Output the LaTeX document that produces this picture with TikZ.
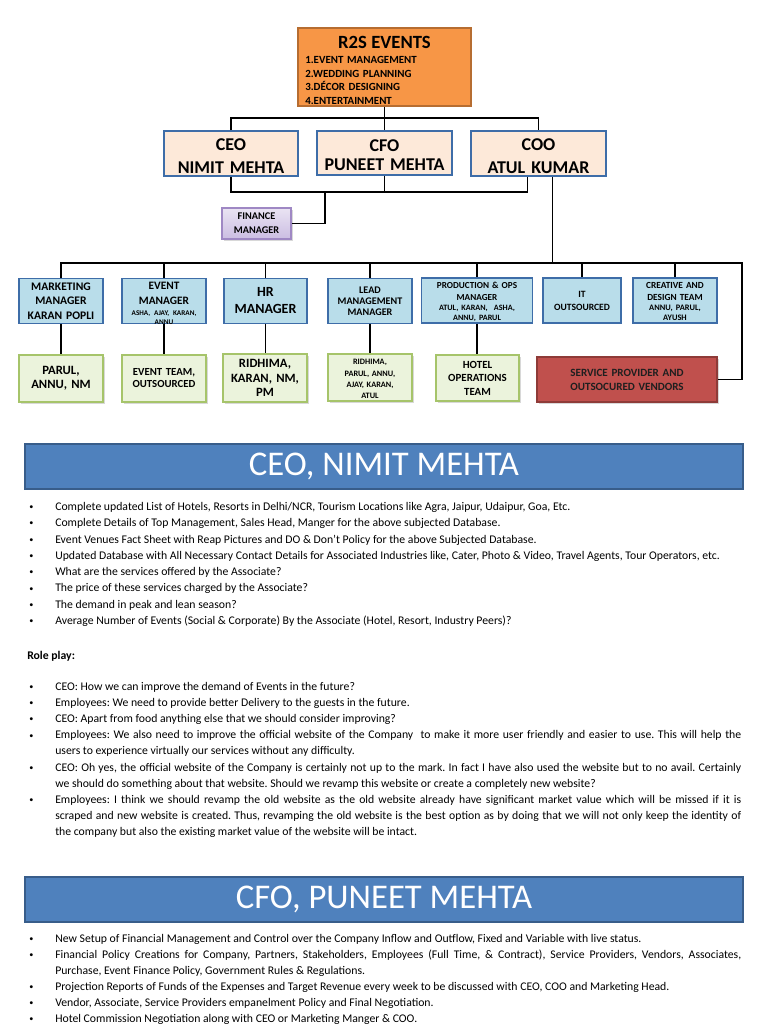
\documentclass[tikz,border=0pt]{standalone}
\usepackage{fontspec}
\usepackage{graphicx}
\setmainfont{Carlito}
\usetikzlibrary{shadows}
\definecolor{orgfill}{HTML}{F79646}
\definecolor{orgbd}{HTML}{B66D31}
\definecolor{peach}{HTML}{FDE9D9}
\definecolor{bluebd}{HTML}{3E6DA8}
\definecolor{mgrfill}{HTML}{B9DDEA}
\definecolor{finbd}{HTML}{9F88C4}
\definecolor{fintop}{HTML}{EAE4F3}
\definecolor{finbot}{HTML}{CBBDE2}
\definecolor{grnfill}{HTML}{EBF3DC}
\definecolor{grnbd}{HTML}{A6C46A}
\definecolor{redfill}{HTML}{C0504D}
\definecolor{redbd}{HTML}{8E3B38}
\definecolor{banfill}{HTML}{4F81BD}
\definecolor{banbd}{HTML}{385D8A}
\frenchspacing
\newcommand{\bulf}[1]{\hangindent=19.5pt\hangafter=1\noindent\makebox[19.5pt][l]{\raisebox{0.6pt}{\scalebox{0.7}{\textbullet}}}#1}
\newcommand{\bul}[1]{\par\bulf{#1}}
\begin{document}
\begin{tikzpicture}[x=0.75pt,y=-0.75pt,
  sz/.style 2 args={minimum width=#1,text width=#1,minimum height=#2},
  anybox/.style={inner sep=0pt,align=center,text=black},
  orgbox/.style={anybox,draw=orgbd,line width=1.2pt,fill=orgfill},
  topbox/.style={anybox,draw=bluebd,line width=1.4pt,fill=peach},
  mgrbox/.style={anybox,draw=bluebd,line width=1.4pt,fill=mgrfill},
  finbox/.style={anybox,draw=finbd,line width=0.8pt,top color=fintop,bottom color=finbot,
     drop shadow={shadow xshift=1.2pt,shadow yshift=-1.2pt,opacity=0.3}},
  grnbox/.style={anybox,draw=grnbd,line width=0.8pt,fill=grnfill,
     drop shadow={shadow xshift=1.2pt,shadow yshift=-1.2pt,opacity=0.3}},
  redbox/.style={anybox,draw=redbd,line width=0.8pt,fill=redfill,
     drop shadow={shadow xshift=1.2pt,shadow yshift=-1.2pt,opacity=0.3}},
  banner/.style={draw=banbd,line width=0.8pt,fill=banfill,minimum width=538.5pt,minimum height=33.75pt,
     text=white,font=\fontsize{26}{30}\selectfont},
  conn/.style={line width=1.4pt,draw=black},
  blist/.style={anchor=base west,inner sep=0pt,text width=534pt,align=justify,
     font=\fontsize{8.8}{12.2}\selectfont}
]
\useasboundingbox (0,0) rectangle (768,1024);
\fill[white] (0,0) rectangle (768,1024);

% top box
\node[orgbox,sz={129.75pt}{58.5pt}] (r2s) at (384.5,67) {};
\node[font=\bfseries\fontsize{14}{16}\selectfont] (r2st) at (384.5,42) {R2S EVENTS};
\node[anchor=base west,inner sep=0pt,text width=125pt,align=left,
      font=\bfseries\fontsize{8.2}{10.3}\selectfont] (r2sl) at (305,63.5)
  {1.EVENT MANAGEMENT\\2.WEDDING PLANNING\\3.DÉCOR DESIGNING\\4.ENTERTAINMENT};

% executives
\node[topbox,sz={100.5pt}{33.75pt},font=\bfseries\fontsize{13.5}{17.25}\selectfont] (ceo) at (231,153.5) {CEO\\NIMIT MEHTA\par\vspace{-4pt}};
\node[topbox,sz={101.25pt}{33pt},font=\bfseries\fontsize{13.5}{14.25}\selectfont] (cfo) at (384.5,153) {CFO\\PUNEET MEHTA\par\vspace{-2.5pt}};
\node[topbox,sz={101.25pt}{33.75pt},font=\bfseries\fontsize{13.5}{17.25}\selectfont] (coo) at (538.5,153.5) {COO\\ATUL KUMAR\par\vspace{-4pt}};

\node[finbox,sz={51.75pt}{23.25pt},font=\bfseries\fontsize{7.7}{10.5}\selectfont] (fin) at (256.5,223.5) {FINANCE\\MANAGER};

% managers
\node[mgrbox,sz={63pt}{33.75pt},font=\bfseries\fontsize{8.7}{10.9}\selectfont] (mkt) at (61,301) {MARKETING\\MANAGER\\KARAN POPLI};
\node[mgrbox,sz={63pt}{33.75pt},font=\bfseries\fontsize{8.5}{11.25}\selectfont] (evt) at (164,301)
  {EVENT\\MANAGER\par\vspace{1.2pt}\fontsize{5.4}{6.8}\selectfont ASHA, AJAY, KARAN,\\ANNU\par\vspace{-4pt}};
\node[mgrbox,sz={62.25pt}{33.75pt},font=\bfseries\fontsize{10.5}{12.75}\selectfont] (hr) at (265.5,301) {HR\\MANAGER};
\node[mgrbox,sz={63pt}{33.75pt},font=\bfseries\fontsize{7.6}{8.25}\selectfont] (lead) at (370,301) {LEAD\\MANAGEMENT\\MANAGER};
\node[mgrbox,sz={83.25pt}{33.75pt},font=\bfseries\fontsize{6.9}{9}\selectfont] (prod) at (477,300.5)
  {PRODUCTION \& OPS\\MANAGER\par\fontsize{6.1}{7.5}\selectfont ATUL, KARAN,~~ASHA,\\ANNU, PARUL\par\vspace{-2pt}};
\node[mgrbox,sz={58.5pt}{33.75pt},font=\bfseries\fontsize{7.2}{9.75}\selectfont] (it) at (582,300.5) {IT\\OUTSOURCED};
\node[mgrbox,sz={63pt}{33.75pt},font=\bfseries\fontsize{7}{9}\selectfont] (cre) at (675,300.5)
  {CREATIVE AND\\DESIGN TEAM\par\fontsize{6.3}{7.5}\selectfont ANNU, PARUL,\\AYUSH\par\vspace{-2pt}};

% teams
\node[grnbox,sz={63pt}{35.25pt},font=\bfseries\fontsize{9.5}{10.5}\selectfont] (parul) at (61,378.5) {PARUL,\\ANNU, NM};
\node[grnbox,sz={63pt}{35.25pt},font=\bfseries\fontsize{8.1}{9}\selectfont] (evteam) at (164,378.5) {EVENT TEAM,\\OUTSOURCED};
\node[grnbox,sz={63pt}{36pt},font=\bfseries\fontsize{9.5}{10.9}\selectfont] (rid1) at (265,378) {RIDHIMA,\\KARAN, NM,\\PM};
\node[grnbox,sz={63pt}{35.25pt},font=\bfseries\fontsize{6.2}{8.5}\selectfont] (rid2) at (370,377.5) {RIDHIMA,\\PARUL, ANNU,\\AJAY, KARAN,\\ATUL\par\vspace{-2.5pt}};
\node[grnbox,sz={62.25pt}{34.5pt},font=\bfseries\fontsize{8.2}{10.1}\selectfont] (hotel) at (477.5,378) {HOTEL\\OPERATIONS\\TEAM};
\node[redbox,sz={135pt}{33.75pt},font=\bfseries\fontsize{8.3}{10.5}\selectfont,text=black!88] (svc) at (627,379.5) {SERVICE PROVIDER AND\\OUTSOCURED VENDORS};

% connectors
\coordinate (jt) at (384.5,118);
\coordinate (jb) at (325,192);
\coordinate (bus) at (742,263);
\coordinate (cooL) at ([xshift=-8.25pt]coo.south);
\coordinate (cooR) at ([xshift=10.5pt]coo.south);
\draw[conn] (r2s.south) -- (cfo.north);
\draw[conn] (ceo.north) -- (ceo.north |- jt) -- (coo.north |- jt) -- (coo.north);
\draw[conn] (ceo.south) -- (ceo.south |- jb) -- (cooL |- jb) -- (cooL);
\draw[conn] (cfo.south) -- (cfo.south |- jb);
\draw[conn] (fin.east) -| (jb);
\draw[conn] (cooR) -- (cooR |- bus);
\draw[conn] (mkt.north) -- (mkt.north |- bus) -- (bus) -- (bus |- svc.east) -- (svc.east);
\foreach \m in {evt,hr,lead,prod,it,cre} {\draw[conn] (\m.north) -- (\m.north |- bus);}
\draw[conn] (mkt.south) -- (parul.north);
\draw[conn] (evt.south) -- (evteam.north);
\draw[conn] (hr.south) -- (hr.south |- rid1.north);
\draw[conn] (lead.south) -- (rid2.north);
\draw[conn] (prod.south) -- (prod.south |- hotel.north);

% CEO section
\node[banner] (b1) at (384,466.5) {CEO, NIMIT MEHTA};
\node[blist] (ceolist) at (29,510.5) {%
\bulf{Complete updated List of Hotels, Resorts in Delhi/NCR, Tourism Locations like Agra, Jaipur, Udaipur, Goa, Etc.}
\bul{Complete Details of Top Management, Sales Head, Manger for the above subjected Database.}
\bul{Event Venues Fact Sheet with Reap Pictures and DO \& Don't Policy for the above Subjected Database.}
\bul{Updated Database with All Necessary Contact Details for Associated Industries like, Cater, Photo \& Video, Travel Agents, Tour Operators, etc.}
\bul{What are the services offered by the Associate?}
\bul{The price of these services charged by the Associate?}
\bul{The demand in peak and lean season?}
\bul{Average Number of Events (Social \& Corporate) By the Associate (Hotel, Resort, Industry Peers)?}\par};
\node[anchor=base west,inner sep=0pt,font=\bfseries\fontsize{8.8}{12.2}\selectfont] (role) at (27,659.5) {Role play:};
\node[blist,font=\fontsize{8.8}{12.08}\selectfont] (rolelist) at (29,690.5) {%
\bulf{CEO: How we can improve the demand of Events in the future?}
\bul{Employees: We need to provide better Delivery to the guests in the future.}
\bul{CEO: Apart from food anything else that we should consider improving?}
\bul{Employees: We also need to improve the official website of the Company\ \ to make it more user friendly and easier to use. This will help the\linebreak users to experience virtually our services without any difficulty.}
\bul{CEO: Oh yes, the official website of the Company is certainly not up to the mark. In fact I have also used the website but to no avail. Certainly\linebreak we should do something about that website. Should we revamp this website or create a completely new website?}
\bul{Employees: I think we should revamp the old website as the old website already have significant market value which will be missed if it is\linebreak scraped and new website is created. Thus, revamping the old website is the best option as by doing that we will not only keep the identity of\linebreak the company but also the existing market value of the website will be intact.}\par};

% CFO section
\node[banner] (b2) at (384,899.5) {CFO, PUNEET MEHTA};
\node[blist,font=\fontsize{8.8}{12}\selectfont] (cfolist) at (29,942.5) {%
\bulf{New Setup of Financial Management and Control over the Company Inflow and Outflow, Fixed and Variable with live status.}
\bul{Financial Policy Creations for Company, Partners, Stakeholders, Employees (Full Time, \& Contract), Service Providers, Vendors, Associates,\linebreak Purchase, Event Finance Policy, Government Rules \& Regulations.}
\bul{Projection Reports of Funds of the Expenses and Target Revenue every week to be discussed with CEO, COO and Marketing Head.}
\bul{Vendor, Associate, Service Providers empanelment Policy and Final Negotiation.}
\bul{Hotel Commission Negotiation along with CEO or Marketing Manger \& COO.}\par};
\end{tikzpicture}
\end{document}
